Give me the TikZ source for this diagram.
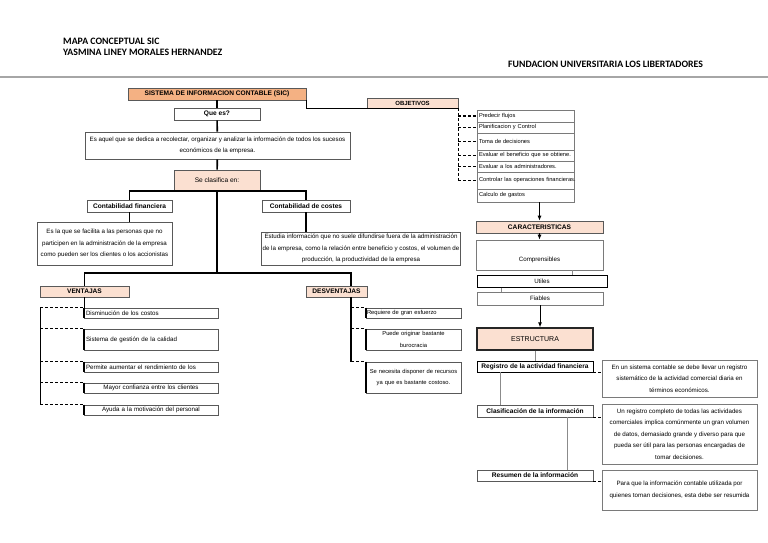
\documentclass[tikz,border=0pt]{standalone}
\usepackage{fontspec}
\setmainfont{Liberation Sans}
\newfontfamily\headfont{Carlito}
\usetikzlibrary{positioning,arrows.meta}

\definecolor{sicorange}{HTML}{F4B183}
\definecolor{peach}{HTML}{FBE0D1}
\definecolor{edge}{HTML}{595959}
\definecolor{rulegray}{HTML}{A6A6A6}

\newcommand{\txtsize}{\fontsize{6.2}{11.4}\selectfont}
\newcommand{\rowsize}{\fontsize{5.7}{7}\selectfont}
\newcommand{\lblsize}{\fontsize{6.6}{7.5}\selectfont\bfseries}

\begin{document}
\begin{tikzpicture}[x=1pt, y=-1pt,
    hdr/.style={font=\headfont\fontsize{9.8}{11}\selectfont\bfseries, anchor=west, inner sep=0pt},
    box/.style={draw=edge, line width=0.6pt, inner sep=1pt, align=center, font=\txtsize},
    lbl/.style={box, font=\lblsize},
    tag/.style={lbl, fill=peach},
    item/.style={box, text width=130pt, inner xsep=2pt, inner ysep=0pt, minimum height=10pt, align=left},
    ditem/.style={item, text width=93pt, inner xsep=1pt, font=\fontsize{5.8}{11.4}\selectfont},
    row/.style={draw=edge!80, line width=0.5pt, font=\rowsize, text width=93pt, inner xsep=2pt, inner ysep=0pt, align=left},
    thk/.style={line width=1.6pt},
    dline/.style={line width=1.1pt, dash pattern=on 3pt off 2pt},
    gry/.style={draw=edge!70, line width=0.8pt},
    arr/.style={-{Latex[length=5pt,width=4pt]}, line width=1pt}
  ]
  \useasboundingbox (0,0) rectangle (768,543);

  % header
  \node[hdr] (ttl) at (63,41) {MAPA CONCEPTUAL SIC};
  \node[hdr] (aut) at (63,52) {YASMINA LINEY MORALES HERNANDEZ};
  \node[hdr] (uni) at (508,64) {FUNDACION UNIVERSITARIA LOS LIBERTADORES};
  \draw[rulegray, line width=1.2pt] (0,77) -- (768,77);

  % central column
  \node[lbl, fill=sicorange, minimum width=178pt, minimum height=12pt] (sic) at (217,94) {SISTEMA DE INFORMACION CONTABLE (SIC)};
  \node[lbl, minimum width=86pt, minimum height=12pt] (que) at (217,114) {Que es?};
  \node[box, minimum width=265pt, minimum height=27pt] (def) at (217.5,145.5)
    {Es aquel que se dedica a recolectar, organizar y analizar la información de todos los sucesos\\económicos de la empresa.};
  \node[box, fill=peach, font=\fontsize{6.6}{7.5}\selectfont, minimum width=86pt, minimum height=20pt] (cla) at (217,180) {Se clasifica en:};
  \node[lbl, minimum width=85pt, minimum height=12pt] (fin) at (129.5,206) {Contabilidad financiera};
  \node[box, minimum width=135pt, minimum height=43pt] (find) at (104.5,243.5)
    {Es la que se facilita a las personas que no\\participen en la administración de la empresa\\como pueden ser los clientes o los accionistas};
  \node[lbl, minimum width=88pt, minimum height=12pt] (cos) at (306,206) {Contabilidad de costes};
  \node[box, minimum width=198pt, minimum height=33pt] (cosd) at (361,248.5)
    {Estudia información que no suele difundirse fuera de la administración\\de la empresa, como la relación entre beneficio y costos, el volumen de\\producción, la productividad de la empresa};

  \draw[thk] (sic) -- (que);
  \draw[thk] (que) -- (def);
  \draw[thk] (def) -- (cla);
  \draw[thk] (fin.north) -- ++(0,-9) -| (cos.north);
  \draw[thk] (fin) -- (fin.south |- find.north);
  \draw[thk] (cos) -- (cos.south |- cosd.north);

  % ventajas / desventajas
  \coordinate (jn) at (217,273);
  \coordinate (dx) at (351,0);
  \coordinate (vb) at (40,0);
  \node[tag, minimum width=89pt, minimum height=11pt] (ven) at (84.5,291.5) {VENTAJAS};
  \node[tag, minimum width=61pt, minimum height=11pt] (des) at (336.5,291.5) {DESVENTAJAS};
  \draw[thk] (cla) -- (jn);
  \draw[thk] (ven.north) |- (jn) -| (dx |- des.north);

  \node[item] (v1) at (151,313) {Disminución de los costos};
  \node[item, minimum height=21pt] (v2) at (151,339.5) {Sistema de gestión de la calidad};
  \node[item] (v3) at (151,367) {Permite aumentar el rendimiento de los};
  \node[item, align=center] (v4) at (151,388) {Mayor confianza entre los clientes};
  \node[item, align=center] (v5) at (151,410) {Ayuda a la motivación del personal};
  \draw[thk] (ven.south) -- (ven.south |- v1.north);
  \draw[thk] (v1.north west) -- (v1.south west);
  \draw[thk] (v2.north west) -- (v2.south west);
  \draw[thk] (v3.north west) -- (v3.south west);
  \draw[thk] (v4.north west) -- (v4.south west);
  \draw[thk] (v5.north west) -- (v5.south west);
  \draw[line width=1pt] (vb |- v1.north) -- (vb |- v5.north);
  \draw[dline] (vb |- v1.north) -- (v1.north west);
  \draw[dline] (vb |- v2.north) -- (v2.north west);
  \draw[dline] (vb |- v3.north) -- (v3.north west);
  \draw[dline] (vb |- v4.north) -- (v4.north west);
  \draw[dline] (vb |- v5.north) -- (v5.north west);

  \node[ditem] (d1) at (413.5,313) {Requiere de gran esfuerzo};
  \node[ditem, minimum height=21pt, align=center] (d2) at (413.5,339.5) {Puede originar bastante\\burocracia};
  \node[ditem, minimum height=31pt, align=center] (d3) at (413.5,377.5) {Se necesita disponer de recursos\\ya que es bastante costoso.};
  \draw[thk] (dx |- des.south) -- (dx |- d3.north);
  \draw[thk] (d1.north west) -- (d1.south west);
  \draw[thk] (d2.north west) -- (d2.south west);
  \draw[thk] (d3.north west) -- (d3.south west);
  \draw[dline] (dx |- d1.north) -- (d1.north west);
  \draw[dline] (dx |- d2.north) -- (d2.north west);
  \draw[dline] (dx |- d3.north) -- (d3.north west);

  % objetivos
  \node[tag, font=\fontsize{6}{7}\selectfont\bfseries, minimum width=91pt, minimum height=10pt] (obj) at (412.5,103) {OBJETIVOS};
  \draw[thk] (sic.south east) |- (obj.south east);
  \node[row, minimum height=12pt] (o1) at (525.5,116) {Predecir flujos};
  \node[row, minimum height=11pt] (o2) at (525.5,127.5) {Planificacion y Control};
  \node[row, minimum height=17pt] (o3) at (525.5,141.5) {Toma de decisiones};
  \node[row, minimum height=11pt] (o4) at (525.5,155.5) {Evaluar el beneficio que se obtiene.};
  \node[row, minimum height=11pt] (o5) at (525.5,166.5) {Evaluar a los administradores.};
  \node[row, minimum height=17pt] (o6) at (525.5,180.5) {\mbox{Controlar las operaciones financieras.}};
  \node[row, minimum height=13pt] (o7) at (525.5,195.5) {Calculo de gastos};
  \draw[dline] (obj.south east) -- (obj.south east |- o6.west);
  \draw[dline] (obj.south east |- o1.west) -- (o1.west);
  \draw[dline] (obj.south east |- o2.west) -- (o2.west);
  \draw[dline] (obj.south east |- o3.west) -- (o3.west);
  \draw[dline] (obj.south east |- o4.west) -- (o4.west);
  \draw[dline] (obj.south east |- o5.west) -- (o5.west);
  \draw[dline] (obj.south east |- o6.west) -- (o6.west);

  % caracteristicas
  \node[tag, minimum width=127pt, minimum height=12pt] (car) at (539.5,227) {CARACTERISTICAS};
  \node[box, draw=edge!80, minimum width=127pt, minimum height=30pt,
        label={[font=\txtsize, yshift=-5pt]center:Comprensibles}] (cmp) at (539.5,255) {};
  \node[box, draw=black, line width=1pt, minimum width=130pt, minimum height=12pt] (utl) at (542,281) {Utiles};
  \node[box, draw=edge!80, minimum width=126pt, minimum height=13pt] (fia) at (540,298.5) {Fiables};
  \coordinate (uc) at (572,0);
  \coordinate (fc) at (501,0);
  \draw[arr] (car.north |- o7.south) -- (car.north);
  \draw[arr] (car) -- (cmp);
  \draw[gry] (uc |- cmp.south) -- (uc |- utl.north);
  \draw[gry] (fc |- utl.south) -- (fc |- fia.north);

  % estructura
  \node[box, fill=peach, draw=black!85, line width=1.2pt, font=\fontsize{7}{8}\selectfont,
        minimum width=116pt, minimum height=22pt] (est) at (535,339) {ESTRUCTURA};
  \node[lbl, draw=black, line width=0.9pt, minimum width=116pt, minimum height=11pt] (reg) at (535,366.5) {Registro de la actividad financiera};
  \node[lbl, minimum width=116pt, minimum height=12pt] (cls) at (535,411) {Clasificación de la información};
  \node[lbl, minimum width=116pt, minimum height=11pt] (res) at (535,475.5) {Resumen de la información};
  \coordinate (rc) at (500,0);
  \coordinate (cc) at (567,0);
  \draw[arr] (fia.south) -- (fia.south |- est.north);
  \draw[gry] (est) -- (reg);
  \draw[gry] (rc |- reg.south) -- (rc |- cls.north);
  \draw[gry] (cc |- cls.south) -- (cc |- res.north);

  \node[box, draw=edge!80, minimum width=155pt, minimum height=37pt] (e1) at (679.5,378.5)
    {En un sistema contable se debe llevar un registro\\sistemático de la actividad comercial diaria en\\términos económicos.};
  \node[box, draw=edge!80, minimum width=155pt, minimum height=60pt] (e2) at (679.5,434)
    {Un registro completo de todas las actividades\\comerciales implica comúnmente un gran volumen\\de datos, demasiado grande y diverso para que\\pueda ser útil para las personas encargadas de\\tomar decisiones.};
  \node[box, draw=edge!80, minimum width=155pt, minimum height=40pt] (e3) at (679.5,490)
    {Para que la información contable utilizada por\\quienes toman decisiones, esta debe ser resumida};
  \draw[dline] (reg.south east) -- (reg.south east -| e1.west);
  \draw[dline] (cls.south east) -- (cls.south east -| e2.west);
  \draw[dline] (res.south east) -- (res.south east -| e3.west);
\end{tikzpicture}
\end{document}
